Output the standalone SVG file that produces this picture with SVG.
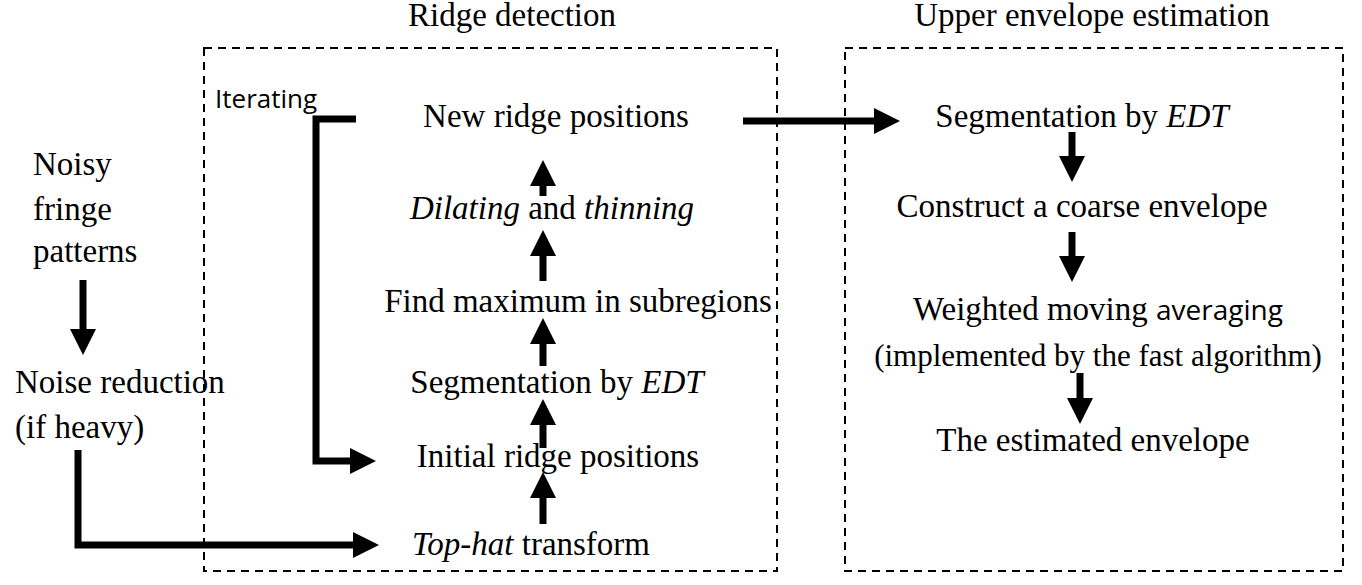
<svg xmlns="http://www.w3.org/2000/svg" width="1362" height="585" viewBox="0 0 1362 585">
<style>
text{font-family:'Liberation Serif','Times New Roman','DejaVu Serif',serif;font-size:33px;fill:#000}
.c{text-anchor:middle}
.s{font-family:'Open Sans','Liberation Sans',sans-serif;font-size:26px}
.box{fill:none;stroke:#000;stroke-width:2;stroke-dasharray:8 6}
.ar{fill:none;stroke:#000;stroke-width:7;marker-end:url(#h)}
</style>
<defs><marker id="h" markerUnits="userSpaceOnUse" markerWidth="30" markerHeight="30" refX="2" refY="15" orient="auto"><path d="M0,2 L26,15 L0,28 Z"/></marker></defs>
<rect width="1362" height="585" fill="#fff"/>
<text class="c" x="512" y="26">Ridge detection</text>
<text class="c" x="1092" y="26">Upper envelope estimation</text>
<rect class="box" x="204" y="48" width="573" height="523"/>
<rect class="box" x="845" y="48" width="498" height="523"/>
<g id="connectors">
<path class="ar" d="M543,196 V184"/>
<path class="ar" d="M543,281 V254"/>
<path class="ar" d="M543,366 V342"/>
<path class="ar" d="M543,448 V423"/>
<path class="ar" d="M543,524 V496"/>
<path class="ar" d="M356,119 H316 V461 H352"/>
<path class="ar" d="M83,280 V331"/>
<path class="ar" d="M78,450 V545 H355"/>
<path class="ar" d="M743,121 H876"/>
<path class="ar" d="M1072,132 V158"/>
<path class="ar" d="M1072,232 V258"/>
<path class="ar" d="M1080,373 V400"/>
</g>
<g id="n1"><text class="c" x="556" y="127">New ridge positions</text></g>
<g id="n2"><text class="c" x="552" y="219"><tspan font-style="italic">Dilating</tspan> and <tspan font-style="italic">thinning</tspan></text></g>
<g id="n3"><text class="c" x="578" y="312">Find maximum in subregions</text></g>
<g id="n4"><text class="c" x="557" y="393">Segmentation by <tspan font-style="italic">EDT</tspan></text></g>
<g id="n5"><text class="c" x="558" y="467">Initial ridge positions</text></g>
<g id="n6"><text class="c" x="531" y="555"><tspan font-style="italic">Top-hat</tspan> transform</text></g>
<g id="iter"><text class="s" x="215" y="108">Iterating</text></g>
<g id="noisy"><text x="33" y="175">Noisy</text><text x="33" y="220">fringe</text><text x="33" y="262">patterns</text></g>
<g id="nr"><text x="15" y="393">Noise reduction</text><text x="15" y="438">(if heavy)</text></g>
<g id="r1"><text class="c" x="1082" y="127">Segmentation by <tspan font-style="italic">EDT</tspan></text></g>
<g id="r2"><text class="c" x="1082" y="217">Construct a coarse envelope</text></g>
<g id="r3"><text class="c" x="1098" y="320">Weighted moving <tspan class="s" style="font-size:28px">averaging</tspan></text><text class="c" x="1098" y="366" style="font-size:31px">(implemented by the fast algorithm)</text></g>
<g id="r4"><text class="c" x="1093" y="451">The estimated envelope</text></g>
</svg>
